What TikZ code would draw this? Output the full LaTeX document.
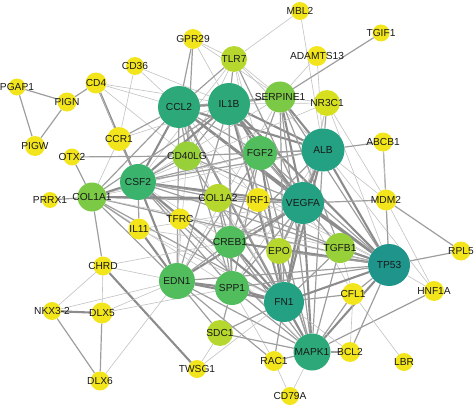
\documentclass[tikz,border=0pt]{standalone}
\usepackage{fontspec}
\setmainfont{Liberation Sans}
\usetikzlibrary{backgrounds}
\definecolor{cYel}{HTML}{F3E51C}
\definecolor{cLim}{HTML}{D6E01F}
\definecolor{cLgr}{HTML}{B6D82E}
\definecolor{cPea}{HTML}{98D03A}
\definecolor{cGrn}{HTML}{7BC944}
\definecolor{cMed}{HTML}{52BD5C}
\definecolor{cJad}{HTML}{3AB36D}
\definecolor{cSea}{HTML}{2DA979}
\definecolor{cTea}{HTML}{24A083}
\definecolor{cDee}{HTML}{1F948B}
\tikzstyle{gene} = [
    circle,
    inner sep=0pt,
    draw=none
]
\tikzstyle{thin edge} = [line width=0.6pt, draw=black!24]
\tikzstyle{mid edge} = [line width=1.2pt, draw=black!38]
\tikzstyle{thick edge} = [line width=2.1pt, draw=black!45]

\begin{document}
\begin{tikzpicture}[x=1pt, y=-1pt,
    every label/.style={font=\fontsize{10.2}{12}\selectfont, text=black!90}]

\useasboundingbox (0,0) rectangle (474,412);

% genes
\node (mbl2) [gene, fill=cYel, minimum size=18pt, label=center:MBL2] at (300,11) {};
\node (tgif1) [gene, fill=cYel, minimum size=17pt, label=center:TGIF1] at (381,33) {};
\node (gpr29) [gene, fill=cYel, minimum size=20pt, label=center:GPR29] at (193,39) {};
\node (tlr7) [gene, fill=cLgr, minimum size=26pt, label=center:TLR7] at (234,59) {};
\node (adamts13) [gene, fill=cYel, minimum size=20pt, label=center:ADAMTS13] at (317,56) {};
\node (cd36) [gene, fill=cYel, minimum size=18pt, label=center:CD36] at (135,66) {};
\node (cd4) [gene, fill=cYel, minimum size=21pt, label=center:CD4] at (96,83) {};
\node (pgap1) [gene, fill=cYel, minimum size=17pt, label=center:PGAP1] at (17,87) {};
\node (pign) [gene, fill=cYel, minimum size=19pt, label=center:PIGN] at (67,102) {};
\node (ccl2) [gene, fill=cSea, minimum size=42pt, label=center:CCL2] at (179,107) {};
\node (il1b) [gene, fill=cSea, minimum size=42pt, label=center:IL1B] at (229,104) {};
\node (serpine1) [gene, fill=cGrn, minimum size=31pt, label=center:SERPINE1] at (280,97) {};
\node (nr3c1) [gene, fill=cLim, minimum size=26pt, label=center:NR3C1] at (327,103) {};
\node (pigw) [gene, fill=cYel, minimum size=20pt, label=center:PIGW] at (35,146) {};
\node (ccr1) [gene, fill=cYel, minimum size=24pt, label=center:CCR1] at (119,139) {};
\node (otx2) [gene, fill=cYel, minimum size=17pt, label=center:OTX2] at (72,157) {};
\node (cd40lg) [gene, fill=cPea, minimum size=29pt, label=center:CD40LG] at (187,156) {};
\node (fgf2) [gene, fill=cMed, minimum size=34pt, label=center:FGF2] at (260,153) {};
\node (alb) [gene, fill=cTea, minimum size=43pt, label=center:ALB] at (323,150) {};
\node (abcb1) [gene, fill=cYel, minimum size=19pt, label=center:ABCB1] at (383,142) {};
\node (csf2) [gene, fill=cJad, minimum size=36pt, label=center:CSF2] at (138,182) {};
\node (col1a1) [gene, fill=cGrn, minimum size=29pt, label=center:COL1A1] at (92,197) {};
\node (prrx1) [gene, fill=cYel, minimum size=16pt, label=center:PRRX1] at (50,200) {};
\node (col1a2) [gene, fill=cLgr, minimum size=28pt, label=center:COL1A2] at (218,198) {};
\node (irf1) [gene, fill=cYel, minimum size=24pt, label=center:IRF1] at (258,200) {};
\node (vegfa) [gene, fill=cTea, minimum size=42pt, label=center:VEGFA] at (303,203) {};
\node (mdm2) [gene, fill=cYel, minimum size=21pt, label=center:MDM2] at (386,200) {};
\node (il11) [gene, fill=cYel, minimum size=21pt, label=center:IL11] at (139,229) {};
\node (tfrc) [gene, fill=cYel, minimum size=21pt, label=center:TFRC] at (180,219) {};
\node (creb1) [gene, fill=cMed, minimum size=32pt, label=center:CREB1] at (230,242) {};
\node (epo) [gene, fill=cLgr, minimum size=26pt, label=center:EPO] at (279,251) {};
\node (tgfb1) [gene, fill=cPea, minimum size=30pt, label=center:TGFB1] at (340,248) {};
\node (tp53) [gene, fill=cDee, minimum size=42pt, label=center:TP53] at (389,265) {};
\node (chrd) [gene, fill=cYel, minimum size=19pt, label=center:CHRD] at (103,266) {};
\node (edn1) [gene, fill=cMed, minimum size=36pt, label=center:EDN1] at (177,281) {};
\node (spp1) [gene, fill=cMed, minimum size=34pt, label=center:SPP1] at (232,288) {};
\node (fn1) [gene, fill=cTea, minimum size=40pt, label=center:FN1] at (284,302) {};
\node (cfl1) [gene, fill=cYel, minimum size=22pt, label=center:CFL1] at (353,294) {};
\node (hnf1a) [gene, fill=cYel, minimum size=20pt, label=center:HNF1A] at (434,291) {};
\node (rpl5) [gene, fill=cYel, minimum size=19pt, label=center:RPL5] at (461,251) {};
\node (nkx32) [gene, fill=cYel, minimum size=18pt, label=center:NKX3-2] at (52,311) {};
\node (dlx5) [gene, fill=cYel, minimum size=21pt, label=center:DLX5] at (102,313) {};
\node (sdc1) [gene, fill=cLgr, minimum size=26pt, label=center:SDC1] at (220,333) {};
\node (mapk1) [gene, fill=cSea, minimum size=37pt, label=center:MAPK1] at (312,352) {};
\node (bcl2) [gene, fill=cYel, minimum size=20pt, label=center:BCL2] at (350,352) {};
\node (lbr) [gene, fill=cYel, minimum size=18pt, label=center:LBR] at (404,362) {};
\node (rac1) [gene, fill=cYel, minimum size=20pt, label=center:RAC1] at (274,361) {};
\node (twsg1) [gene, fill=cYel, minimum size=18pt, label=center:TWSG1] at (197,369) {};
\node (dlx6) [gene, fill=cYel, minimum size=19pt, label=center:DLX6] at (100,381) {};
\node (cd79a) [gene, fill=cYel, minimum size=18pt, label=center:CD79A] at (290,396) {};

% interactions
\begin{scope}[on background layer]
\draw [mid edge] (pgap1) -- (pign);
\draw [mid edge] (pgap1) -- (pigw);
\draw [mid edge] (pign) -- (pigw);
\draw [mid edge] (pign) -- (cd4);
\draw [thick edge] (cd4) -- (csf2);
\draw [thin edge] (cd4) -- (ccr1);
\draw [thin edge] (cd4) -- (ccl2);
\draw [thin edge] (cd4) -- (il1b);
\draw [thin edge] (cd4) -- (cd40lg);
\draw [thin edge] (cd36) -- (ccr1);
\draw [thin edge] (cd36) -- (ccl2);
\draw [thin edge] (cd36) -- (il1b);
\draw [mid edge] (gpr29) -- (ccl2);
\draw [thin edge] (gpr29) -- (il1b);
\draw [thin edge] (gpr29) -- (tlr7);
\draw [mid edge] (gpr29) -- (cd40lg);
\draw [thin edge] (gpr29) -- (serpine1);
\draw [thin edge] (mbl2) -- (tlr7);
\draw [thin edge] (mbl2) -- (alb);
\draw [mid edge] (tgif1) -- (serpine1);
\draw [thin edge] (adamts13) -- (serpine1);
\draw [thin edge] (adamts13) -- (alb);
\draw [mid edge] (tlr7) -- (ccl2);
\draw [mid edge] (tlr7) -- (il1b);
\draw [thin edge] (tlr7) -- (serpine1);
\draw [thin edge] (tlr7) -- (fgf2);
\draw [thin edge] (tlr7) -- (alb);
\draw [thin edge] (tlr7) -- (cd40lg);
\draw [thin edge] (tlr7) -- (irf1);
\draw [thin edge] (tlr7) -- (csf2);
\draw [mid edge] (tlr7) -- (vegfa);
\draw [thick edge] (ccl2) -- (il1b);
\draw [thick edge] (ccl2) -- (csf2);
\draw [mid edge] (ccl2) -- (cd40lg);
\draw [mid edge] (ccl2) -- (fgf2);
\draw [thick edge] (ccl2) -- (alb);
\draw [thick edge] (ccl2) -- (vegfa);
\draw [thick edge] (ccl2) -- (fn1);
\draw [mid edge] (ccl2) -- (edn1);
\draw [mid edge] (ccl2) -- (spp1);
\draw [mid edge] (ccl2) -- (serpine1);
\draw [mid edge] (ccl2) -- (ccr1);
\draw [mid edge] (ccl2) -- (col1a1);
\draw [thick edge] (ccl2) -- (tp53);
\draw [mid edge] (ccl2) -- (mapk1);
\draw [thin edge] (ccl2) -- (irf1);
\draw [thin edge] (ccl2) -- (creb1);
\draw [mid edge] (il1b) -- (serpine1);
\draw [thick edge] (il1b) -- (fgf2);
\draw [thick edge] (il1b) -- (alb);
\draw [thick edge] (il1b) -- (vegfa);
\draw [thick edge] (il1b) -- (csf2);
\draw [mid edge] (il1b) -- (cd40lg);
\draw [thick edge] (il1b) -- (fn1);
\draw [thick edge] (il1b) -- (tp53);
\draw [mid edge] (il1b) -- (edn1);
\draw [mid edge] (il1b) -- (mapk1);
\draw [mid edge] (il1b) -- (spp1);
\draw [mid edge] (il1b) -- (col1a1);
\draw [mid edge] (il1b) -- (creb1);
\draw [thin edge] (il1b) -- (nr3c1);
\draw [thin edge] (il1b) -- (epo);
\draw [mid edge] (serpine1) -- (fgf2);
\draw [thick edge] (serpine1) -- (alb);
\draw [thick edge] (serpine1) -- (vegfa);
\draw [mid edge] (serpine1) -- (fn1);
\draw [mid edge] (serpine1) -- (tgfb1);
\draw [mid edge] (serpine1) -- (tp53);
\draw [thin edge] (serpine1) -- (nr3c1);
\draw [mid edge] (serpine1) -- (mapk1);
\draw [thin edge] (serpine1) -- (edn1);
\draw [thin edge] (serpine1) -- (csf2);
\draw [mid edge] (nr3c1) -- (alb);
\draw [thin edge] (nr3c1) -- (tp53);
\draw [thin edge] (nr3c1) -- (vegfa);
\draw [thin edge] (nr3c1) -- (fn1);
\draw [thin edge] (nr3c1) -- (mdm2);
\draw [thin edge] (nr3c1) -- (csf2);
\draw [mid edge] (ccr1) -- (csf2);
\draw [thin edge] (ccr1) -- (col1a1);
\draw [thin edge] (ccr1) -- (il1b);
\draw [mid edge] (otx2) -- (cd40lg);
\draw [mid edge] (otx2) -- (col1a1);
\draw [mid edge] (cd40lg) -- (alb);
\draw [mid edge] (cd40lg) -- (csf2);
\draw [mid edge] (cd40lg) -- (fn1);
\draw [mid edge] (cd40lg) -- (vegfa);
\draw [thin edge] (cd40lg) -- (edn1);
\draw [thin edge] (cd40lg) -- (tp53);
\draw [thick edge] (fgf2) -- (vegfa);
\draw [mid edge] (fgf2) -- (alb);
\draw [thick edge] (fgf2) -- (fn1);
\draw [mid edge] (fgf2) -- (tp53);
\draw [mid edge] (fgf2) -- (csf2);
\draw [mid edge] (fgf2) -- (edn1);
\draw [mid edge] (fgf2) -- (spp1);
\draw [mid edge] (fgf2) -- (creb1);
\draw [thin edge] (fgf2) -- (tgfb1);
\draw [mid edge] (fgf2) -- (mapk1);
\draw [thin edge] (fgf2) -- (col1a1);
\draw [thick edge] (alb) -- (vegfa);
\draw [thick edge] (alb) -- (fn1);
\draw [thick edge] (alb) -- (tp53);
\draw [mid edge] (alb) -- (epo);
\draw [mid edge] (alb) -- (creb1);
\draw [mid edge] (alb) -- (mapk1);
\draw [mid edge] (alb) -- (csf2);
\draw [thin edge] (alb) -- (col1a1);
\draw [mid edge] (alb) -- (abcb1);
\draw [thin edge] (alb) -- (mdm2);
\draw [thin edge] (alb) -- (hnf1a);
\draw [thin edge] (alb) -- (spp1);
\draw [mid edge] (abcb1) -- (mdm2);
\draw [thin edge] (abcb1) -- (tp53);
\draw [thick edge] (vegfa) -- (fn1);
\draw [thick edge] (vegfa) -- (tp53);
\draw [mid edge] (vegfa) -- (tgfb1);
\draw [mid edge] (vegfa) -- (epo);
\draw [mid edge] (vegfa) -- (creb1);
\draw [mid edge] (vegfa) -- (spp1);
\draw [thick edge] (vegfa) -- (edn1);
\draw [thick edge] (vegfa) -- (csf2);
\draw [mid edge] (vegfa) -- (col1a1);
\draw [mid edge] (vegfa) -- (col1a2);
\draw [thick edge] (vegfa) -- (mapk1);
\draw [thin edge] (vegfa) -- (irf1);
\draw [mid edge] (vegfa) -- (mdm2);
\draw [thin edge] (vegfa) -- (cfl1);
\draw [thin edge] (vegfa) -- (il11);
\draw [mid edge] (mdm2) -- (tp53);
\draw [mid edge] (mdm2) -- (rpl5);
\draw [thin edge] (mdm2) -- (hnf1a);
\draw [mid edge] (rpl5) -- (tp53);
\draw [thin edge] (hnf1a) -- (tp53);
\draw [mid edge] (hnf1a) -- (mapk1);
\draw [thin edge] (lbr) -- (cfl1);
\draw [thick edge] (csf2) -- (col1a1);
\draw [thick edge] (csf2) -- (edn1);
\draw [mid edge] (csf2) -- (spp1);
\draw [mid edge] (csf2) -- (il11);
\draw [thin edge] (csf2) -- (tfrc);
\draw [mid edge] (csf2) -- (irf1);
\draw [thick edge] (csf2) -- (fn1);
\draw [mid edge] (csf2) -- (tp53);
\draw [mid edge] (csf2) -- (mapk1);
\draw [thin edge] (csf2) -- (creb1);
\draw [mid edge] (csf2) -- (col1a2);
\draw [mid edge] (prrx1) -- (col1a1);
\draw [thick edge] (col1a1) -- (col1a2);
\draw [mid edge] (col1a1) -- (edn1);
\draw [mid edge] (col1a1) -- (fn1);
\draw [thin edge] (col1a1) -- (spp1);
\draw [mid edge] (col1a1) -- (tp53);
\draw [mid edge] (col1a1) -- (il11);
\draw [mid edge] (col1a1) -- (chrd);
\draw [thin edge] (col1a1) -- (tgfb1);
\draw [mid edge] (col1a2) -- (creb1);
\draw [mid edge] (col1a2) -- (tgfb1);
\draw [mid edge] (col1a2) -- (spp1);
\draw [thin edge] (col1a2) -- (fn1);
\draw [thin edge] (irf1) -- (tp53);
\draw [thin edge] (irf1) -- (fn1);
\draw [thin edge] (irf1) -- (creb1);
\draw [thick edge] (il11) -- (edn1);
\draw [thin edge] (il11) -- (fn1);
\draw [thin edge] (il11) -- (tp53);
\draw [thin edge] (tfrc) -- (tp53);
\draw [thin edge] (tfrc) -- (edn1);
\draw [thin edge] (tfrc) -- (mapk1);
\draw [thick edge] (creb1) -- (tp53);
\draw [mid edge] (creb1) -- (mapk1);
\draw [mid edge] (creb1) -- (edn1);
\draw [mid edge] (creb1) -- (spp1);
\draw [thick edge] (creb1) -- (fn1);
\draw [thin edge] (creb1) -- (chrd);
\draw [mid edge] (epo) -- (tp53);
\draw [mid edge] (epo) -- (mapk1);
\draw [mid edge] (epo) -- (fn1);
\draw [thick edge] (tgfb1) -- (tp53);
\draw [mid edge] (tgfb1) -- (mapk1);
\draw [mid edge] (tgfb1) -- (fn1);
\draw [thin edge] (tgfb1) -- (cfl1);
\draw [thick edge] (tp53) -- (fn1);
\draw [thick edge] (tp53) -- (mapk1);
\draw [mid edge] (tp53) -- (cfl1);
\draw [mid edge] (tp53) -- (bcl2);
\draw [mid edge] (tp53) -- (edn1);
\draw [mid edge] (tp53) -- (spp1);
\draw [thin edge] (chrd) -- (nkx32);
\draw [thin edge] (chrd) -- (dlx5);
\draw [thin edge] (chrd) -- (edn1);
\draw [thick edge] (chrd) -- (twsg1);
\draw [thick edge] (nkx32) -- (dlx5);
\draw [mid edge] (nkx32) -- (dlx6);
\draw [thin edge] (nkx32) -- (edn1);
\draw [mid edge] (dlx5) -- (dlx6);
\draw [thin edge] (dlx5) -- (edn1);
\draw [thin edge] (dlx5) -- (spp1);
\draw [thin edge] (dlx6) -- (edn1);
\draw [thick edge] (edn1) -- (spp1);
\draw [thick edge] (edn1) -- (fn1);
\draw [mid edge] (edn1) -- (mapk1);
\draw [mid edge] (edn1) -- (sdc1);
\draw [mid edge] (edn1) -- (rac1);
\draw [thick edge] (spp1) -- (fn1);
\draw [mid edge] (spp1) -- (mapk1);
\draw [mid edge] (spp1) -- (sdc1);
\draw [thin edge] (spp1) -- (rac1);
\draw [thick edge] (fn1) -- (mapk1);
\draw [mid edge] (fn1) -- (sdc1);
\draw [mid edge] (fn1) -- (rac1);
\draw [mid edge] (fn1) -- (cfl1);
\draw [thin edge] (fn1) -- (bcl2);
\draw [thin edge] (fn1) -- (twsg1);
\draw [mid edge] (cfl1) -- (mapk1);
\draw [thin edge] (cfl1) -- (bcl2);
\draw [mid edge] (sdc1) -- (mapk1);
\draw [thin edge] (sdc1) -- (twsg1);
\draw [mid edge] (mapk1) -- (bcl2);
\draw [mid edge] (mapk1) -- (rac1);
\draw [thin edge] (mapk1) -- (cd79a);
\draw [thin edge] (rac1) -- (cd79a);
\end{scope}

\end{tikzpicture}
\end{document}
